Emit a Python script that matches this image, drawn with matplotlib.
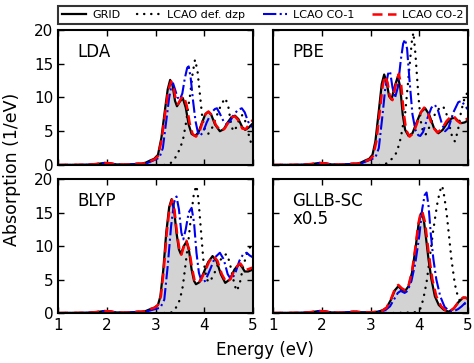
import matplotlib
matplotlib.use("Agg")
import matplotlib.pyplot as plt

plt.rcParams['font.family'] = ['DejaVu Sans']

# low-energy tail shared by the GRID / LCAO CO curves (eV, 1/eV)
low_e = [1.0, 1.6, 1.8, 1.95, 2.05, 2.2, 2.4, 2.55, 2.65, 2.72]
low_y = [0.0, 0.03, 0.15, 0.3, 0.25, 0.08, 0.05, 0.12, 0.2, 0.18]

# ---- LDA ----
lda_grid_e = [2.8, 2.9, 2.97, 3.05, 3.12, 3.2, 3.25, 3.30, 3.35, 3.40, 3.44, 3.50, 3.56, 3.62, 3.68, 3.74,
              3.81, 3.88, 3.95, 4.02, 4.08, 4.14, 4.22, 4.32, 4.40, 4.48, 4.56, 4.63, 4.70, 4.78, 4.84, 4.92, 5.0]
lda_grid_y = [0.35, 0.7, 0.9, 1.5, 4.0, 8.5, 11.2, 12.6, 11.8, 9.5, 8.7, 9.4, 9.9, 8.5, 6.0, 4.6,
              4.3, 4.8, 6.2, 7.5, 7.9, 7.5, 6.0, 5.0, 5.3, 6.3, 7.1, 7.3, 6.8, 5.6, 5.2, 5.6, 6.2]
lda_co2_e = [2.8, 2.9, 2.97, 3.05, 3.12, 3.2, 3.26, 3.32, 3.37, 3.42, 3.46, 3.52, 3.58, 3.64, 3.70, 3.76,
             3.83, 3.90, 3.97, 4.03, 4.09, 4.15, 4.24, 4.34, 4.42, 4.50, 4.57, 4.63, 4.70, 4.78, 4.85, 4.92, 5.0]
lda_co2_y = [0.3, 0.6, 0.8, 1.3, 3.5, 7.8, 11.0, 12.4, 11.5, 9.5, 9.0, 9.8, 10.2, 8.8, 6.2, 4.6,
             4.2, 4.9, 6.5, 7.6, 7.9, 7.4, 5.9, 5.0, 5.4, 6.4, 7.1, 7.2, 6.6, 5.4, 5.3, 6.0, 6.7]
lda_co1_e = [2.8, 2.9, 3.0, 3.08, 3.15, 3.22, 3.28, 3.33, 3.36, 3.40, 3.45, 3.50, 3.55, 3.60, 3.65, 3.68,
             3.72, 3.77, 3.82, 3.87, 3.91, 3.97, 4.05, 4.15, 4.22, 4.26, 4.32, 4.40, 4.46, 4.53, 4.62,
             4.70, 4.77, 4.83, 4.90, 5.0]
lda_co1_y = [0.2, 0.5, 0.8, 1.1, 2.5, 6.5, 10.0, 11.8, 12.1, 11.2, 10.0, 9.7, 10.6, 12.8, 14.4, 14.6,
             13.0, 9.5, 6.5, 4.8, 4.3, 4.8, 6.3, 7.8, 8.3, 8.4, 7.6, 6.4, 6.0, 6.5, 7.6,
             8.2, 8.4, 7.8, 6.4, 5.5]
lda_dzp_e = [1.0, 3.2, 3.3, 3.38, 3.45, 3.52, 3.57, 3.62, 3.67, 3.71, 3.76, 3.81, 3.86, 3.91, 3.96, 4.02,
             4.08, 4.15, 4.25, 4.35, 4.43, 4.49, 4.54, 4.59, 4.65, 4.72, 4.78, 4.84, 4.90, 4.95, 5.0]
lda_dzp_y = [0.0, 0.0, 0.2, 0.8, 1.6, 2.8, 4.0, 6.0, 8.5, 10.4, 13.5, 15.6, 14.0, 10.5, 7.0, 5.0,
             4.6, 5.3, 7.2, 9.0, 9.9, 8.8, 6.5, 5.0, 5.5, 6.8, 7.4, 6.5, 4.8, 3.5, 2.6]

# ---- PBE ----
pbe_grid_e = [2.8, 2.9, 2.97, 3.04, 3.1, 3.17, 3.23, 3.28, 3.33, 3.38, 3.43, 3.49, 3.56, 3.61, 3.66, 3.71,
              3.78, 3.86, 3.94, 4.03, 4.12, 4.20, 4.30, 4.39, 4.48, 4.58, 4.66, 4.73, 4.80, 4.86, 4.93, 5.0]
pbe_grid_y = [0.35, 0.7, 0.9, 1.5, 3.5, 8.0, 12.0, 13.4, 12.3, 10.2, 9.7, 11.5, 13.1, 11.5, 7.5, 5.2,
              4.3, 4.7, 6.2, 7.8, 8.4, 7.5, 5.5, 4.7, 5.2, 6.3, 6.9, 7.0, 6.5, 6.2, 6.3, 6.6]
pbe_co2_e = [2.8, 2.9, 2.98, 3.05, 3.12, 3.19, 3.25, 3.30, 3.35, 3.40, 3.45, 3.51, 3.58, 3.63, 3.68, 3.73,
             3.80, 3.88, 3.96, 4.04, 4.10, 4.18, 4.28, 4.37, 4.46, 4.56, 4.64, 4.70, 4.77, 4.84, 4.92, 5.0]
pbe_co2_y = [0.3, 0.6, 0.8, 1.3, 3.5, 8.0, 11.8, 13.2, 12.2, 10.0, 9.6, 11.6, 13.5, 11.8, 7.8, 5.2,
             4.2, 4.7, 6.3, 7.9, 8.5, 7.6, 5.6, 4.8, 5.3, 6.5, 7.1, 7.3, 6.6, 6.2, 6.6, 6.9]
pbe_co1_e = [2.8, 2.9, 3.0, 3.1, 3.17, 3.24, 3.30, 3.36, 3.40, 3.45, 3.50, 3.56, 3.62, 3.67, 3.71, 3.75,
             3.80, 3.86, 3.92, 3.98, 4.02, 4.08, 4.16, 4.25, 4.32, 4.38, 4.46, 4.53, 4.60, 4.70, 4.80,
             4.87, 4.93, 5.0]
pbe_co1_y = [0.2, 0.5, 0.8, 1.1, 2.5, 7.0, 11.2, 13.5, 13.9, 11.5, 9.9, 11.5, 15.5, 18.0, 18.6, 17.2,
             12.5, 7.5, 5.2, 4.4, 4.3, 4.9, 6.8, 8.5, 8.9, 8.2, 6.2, 5.0, 5.5, 7.8, 9.3,
             9.5, 8.8, 8.2]
pbe_dzp_e = [1.0, 3.25, 3.35, 3.45, 3.54, 3.62, 3.68, 3.71, 3.76, 3.81, 3.85, 3.88, 3.92, 3.98, 4.03, 4.08,
             4.13, 4.22, 4.32, 4.42, 4.49, 4.56, 4.63, 4.68, 4.73, 4.79, 4.86, 4.94, 5.0]
pbe_dzp_y = [0.0, 0.0, 0.3, 1.0, 1.9, 4.0, 6.5, 7.6, 11.5, 15.4, 18.5, 19.6, 16.5, 10.4, 6.5, 4.8,
             4.5, 5.8, 7.5, 8.5, 8.7, 7.5, 5.5, 4.0, 3.5, 5.0, 8.0, 10.2, 10.8]

# ---- BLYP ----
blyp_grid_e = [2.8, 2.9, 2.98, 3.05, 3.1, 3.16, 3.22, 3.28, 3.33, 3.38, 3.43, 3.48, 3.52, 3.58, 3.64, 3.69,
               3.74, 3.79, 3.83, 3.90, 3.98, 4.08, 4.17, 4.25, 4.34, 4.43, 4.52, 4.62, 4.70, 4.73, 4.78,
               4.83, 4.90, 5.0]
blyp_grid_y = [0.3, 0.6, 0.8, 1.2, 2.5, 6.5, 12.0, 15.8, 17.0, 15.5, 12.0, 9.5, 8.8, 10.0, 10.7, 9.2,
               6.5, 4.8, 4.3, 4.6, 5.9, 7.6, 8.5, 7.8, 5.8, 4.5, 5.0, 6.5, 7.2, 7.3, 6.8,
               6.2, 6.2, 6.5]
blyp_co2_e = [2.8, 2.9, 2.98, 3.05, 3.11, 3.17, 3.23, 3.29, 3.34, 3.39, 3.44, 3.49, 3.53, 3.58, 3.63, 3.69,
              3.75, 3.80, 3.85, 3.92, 4.00, 4.10, 4.19, 4.27, 4.36, 4.45, 4.54, 4.63, 4.70, 4.74, 4.79,
              4.85, 4.92, 5.0]
blyp_co2_y = [0.3, 0.6, 0.8, 1.2, 2.5, 6.5, 12.0, 15.8, 16.9, 15.3, 12.0, 9.5, 8.7, 9.9, 10.8, 9.5,
              6.7, 4.9, 4.5, 4.8, 6.0, 7.7, 8.5, 7.8, 5.8, 4.6, 5.1, 6.6, 7.2, 7.4, 6.9,
              6.4, 6.6, 6.8]
blyp_co1_e = [2.8, 2.9, 3.0, 3.1, 3.18, 3.25, 3.32, 3.38, 3.43, 3.48, 3.53, 3.57, 3.62, 3.68, 3.74, 3.79,
              3.84, 3.89, 3.95, 4.02, 4.12, 4.22, 4.32, 4.40, 4.48, 4.55, 4.63, 4.72, 4.80, 4.87, 4.93, 5.0]
blyp_co1_y = [0.2, 0.4, 0.6, 0.8, 2.0, 7.0, 13.0, 16.5, 17.4, 15.5, 12.0, 11.0, 12.5, 15.0, 15.7, 13.5,
              9.0, 6.0, 4.6, 4.8, 6.5, 8.3, 9.0, 8.0, 5.8, 5.0, 5.8, 7.8, 8.8, 9.0, 8.6, 8.3]
blyp_dzp_e = [1.0, 3.3, 3.38, 3.45, 3.50, 3.56, 3.62, 3.67, 3.73, 3.79, 3.84, 3.88, 3.93, 3.98, 4.05, 4.11,
              4.20, 4.30, 4.40, 4.46, 4.52, 4.58, 4.63, 4.67, 4.73, 4.80, 4.88, 4.95, 5.0]
blyp_dzp_y = [0.0, 0.0, 0.3, 1.2, 2.0, 4.0, 7.5, 10.5, 14.5, 18.0, 19.0, 17.0, 12.5, 8.0, 5.0, 4.6,
              5.8, 7.6, 8.6, 8.8, 7.6, 5.5, 4.0, 3.3, 4.5, 7.0, 9.0, 10.0, 9.9]

# ---- GLLB-SC (x0.5) ----
gllb_grid_e = [2.8, 3.0, 3.15, 3.25, 3.33, 3.42, 3.50, 3.57, 3.64, 3.71, 3.78, 3.85, 3.92, 3.98, 4.03, 4.06,
               4.10, 4.15, 4.19, 4.25, 4.32, 4.40, 4.50, 4.60, 4.70, 4.80, 4.90, 4.95, 5.0]
gllb_grid_y = [0.1, 0.1, 0.2, 0.4, 0.8, 2.0, 3.4, 4.0, 3.5, 3.3, 4.0, 6.0, 9.5, 13.0, 14.8, 15.0,
               13.5, 10.5, 8.0, 5.0, 2.5, 1.2, 0.5, 0.2, 0.6, 1.6, 2.3, 2.3, 2.1]
gllb_co2_e = [2.8, 3.0, 3.15, 3.25, 3.33, 3.42, 3.50, 3.57, 3.64, 3.71, 3.78, 3.85, 3.92, 3.98, 4.03, 4.06,
              4.12, 4.20, 4.27, 4.35, 4.45, 4.55, 4.62, 4.72, 4.82, 4.90, 5.0]
gllb_co2_y = [0.15, 0.1, 0.2, 0.4, 0.8, 2.1, 3.6, 4.2, 3.7, 3.4, 4.1, 6.2, 9.8, 13.3, 15.0, 15.2,
              13.5, 8.5, 5.0, 2.5, 1.0, 0.3, 0.2, 0.8, 1.8, 2.3, 2.2]
gllb_co1_e = [2.8, 3.0, 3.2, 3.3, 3.4, 3.48, 3.56, 3.62, 3.70, 3.76, 3.84, 3.92, 4.00, 4.06, 4.11, 4.15,
              4.19, 4.24, 4.29, 4.35, 4.43, 4.52, 4.62, 4.72, 4.80, 4.87, 4.94, 5.0]
gllb_co1_y = [0.05, 0.05, 0.2, 0.4, 1.0, 2.0, 3.0, 3.3, 3.0, 3.3, 4.8, 7.5, 11.5, 15.5, 17.6, 18.0,
              16.0, 11.5, 8.0, 5.0, 2.5, 0.9, 0.3, 0.3, 0.6, 1.0, 1.5, 1.9]
gllb_dzp_e = [1.0, 3.5, 3.9, 3.98, 4.02, 4.08, 4.15, 4.22, 4.28, 4.32, 4.38, 4.44, 4.47, 4.51, 4.56, 4.60,
              4.66, 4.73, 4.79, 4.84, 4.90, 4.95, 5.0]
gllb_dzp_y = [0.0, 0.0, 0.1, 0.3, 0.6, 2.0, 4.6, 8.5, 12.0, 14.0, 16.8, 18.6, 19.0, 17.5, 15.0, 12.2,
              8.0, 4.3, 2.5, 1.7, 1.3, 1.4, 1.6]

panel_names = ["LDA", "PBE", "BLYP", "GLLB-SC\nx0.5"]
legend_labels = ["GRID", "LCAO def. dzp", "LCAO CO-1", "LCAO CO-2"]
x_ticks = [1, 2, 3, 4, 5]
y_ticks = [0, 5, 10, 15, 20]

panels = [
    (lda_grid_e, lda_grid_y, lda_dzp_e, lda_dzp_y, lda_co1_e, lda_co1_y, lda_co2_e, lda_co2_y),
    (pbe_grid_e, pbe_grid_y, pbe_dzp_e, pbe_dzp_y, pbe_co1_e, pbe_co1_y, pbe_co2_e, pbe_co2_y),
    (blyp_grid_e, blyp_grid_y, blyp_dzp_e, blyp_dzp_y, blyp_co1_e, blyp_co1_y, blyp_co2_e, blyp_co2_y),
    (gllb_grid_e, gllb_grid_y, gllb_dzp_e, gllb_dzp_y, gllb_co1_e, gllb_co1_y, gllb_co2_e, gllb_co2_y),
]

fig = plt.figure(figsize=(4.74, 3.63), dpi=100)
boxes = [
    [0.1224, 0.5455, 0.4114, 0.372],
    [0.5760, 0.5455, 0.4114, 0.372],
    [0.1224, 0.1377, 0.4114, 0.369],
    [0.5760, 0.1377, 0.4114, 0.369],
]

handles = None
for i, (box, data, name) in enumerate(zip(boxes, panels, panel_names)):
    ax = fig.add_axes(box)
    ge, gy, de, dy, c1e, c1y, c2e, c2y = data
    ge = low_e + ge
    gy = low_y + gy
    c1e = low_e + c1e
    c1y = low_y + c1y
    c2e = low_e + c2e
    c2y = low_y + c2y
    ax.fill_between(ge, gy, color='#d3d3d3', lw=0)
    h1, = ax.plot(ge, gy, color='black', lw=1.6)
    h2, = ax.plot(de, dy, color='black', lw=1.7, linestyle=(0, (0.1, 2.9)),
                  dash_capstyle='round')
    h3, = ax.plot(c1e, c1y, color='#0000ee', lw=1.5, linestyle='-.')
    h4, = ax.plot(c2e, c2y, color='#ff0000', lw=1.8, linestyle=(0, (4, 2.2)))
    handles = [h1, h2, h3, h4]

    ax.set_xlim(1, 5)
    ax.set_ylim(0, 20)
    ax.set_xticks(x_ticks)
    ax.set_yticks(y_ticks)
    ax.tick_params(direction='in', top=True, right=True, length=4, width=1, labelsize=11)
    if i < 2:
        ax.tick_params(labelbottom=False)
    if i % 2 == 1:
        ax.tick_params(labelleft=False)
    for s in ax.spines.values():
        s.set_linewidth(1.5)
    ax.text(0.1, 0.9, name, transform=ax.transAxes, fontsize=12, va='top', ha='left',
            linespacing=1.0)

leg = fig.legend(handles, legend_labels, loc='lower left', ncol=4, mode='expand',
                 bbox_to_anchor=(0.1224, 0.934, 0.863, 0.058), fontsize=8,
                 frameon=True, fancybox=False, borderaxespad=0, handlelength=2.2,
                 handletextpad=0.5, borderpad=0.35)
leg.get_frame().set_edgecolor('black')
leg.get_frame().set_linewidth(1.5)

fig.text(0.025, 0.534, "Absorption (1/eV)", rotation=90, fontsize=12.5, ha='center', va='center')
fig.text(0.559, 0.035, "Energy (eV)", fontsize=12, ha='center', va='center')

fig.savefig("out.png", dpi=100)
